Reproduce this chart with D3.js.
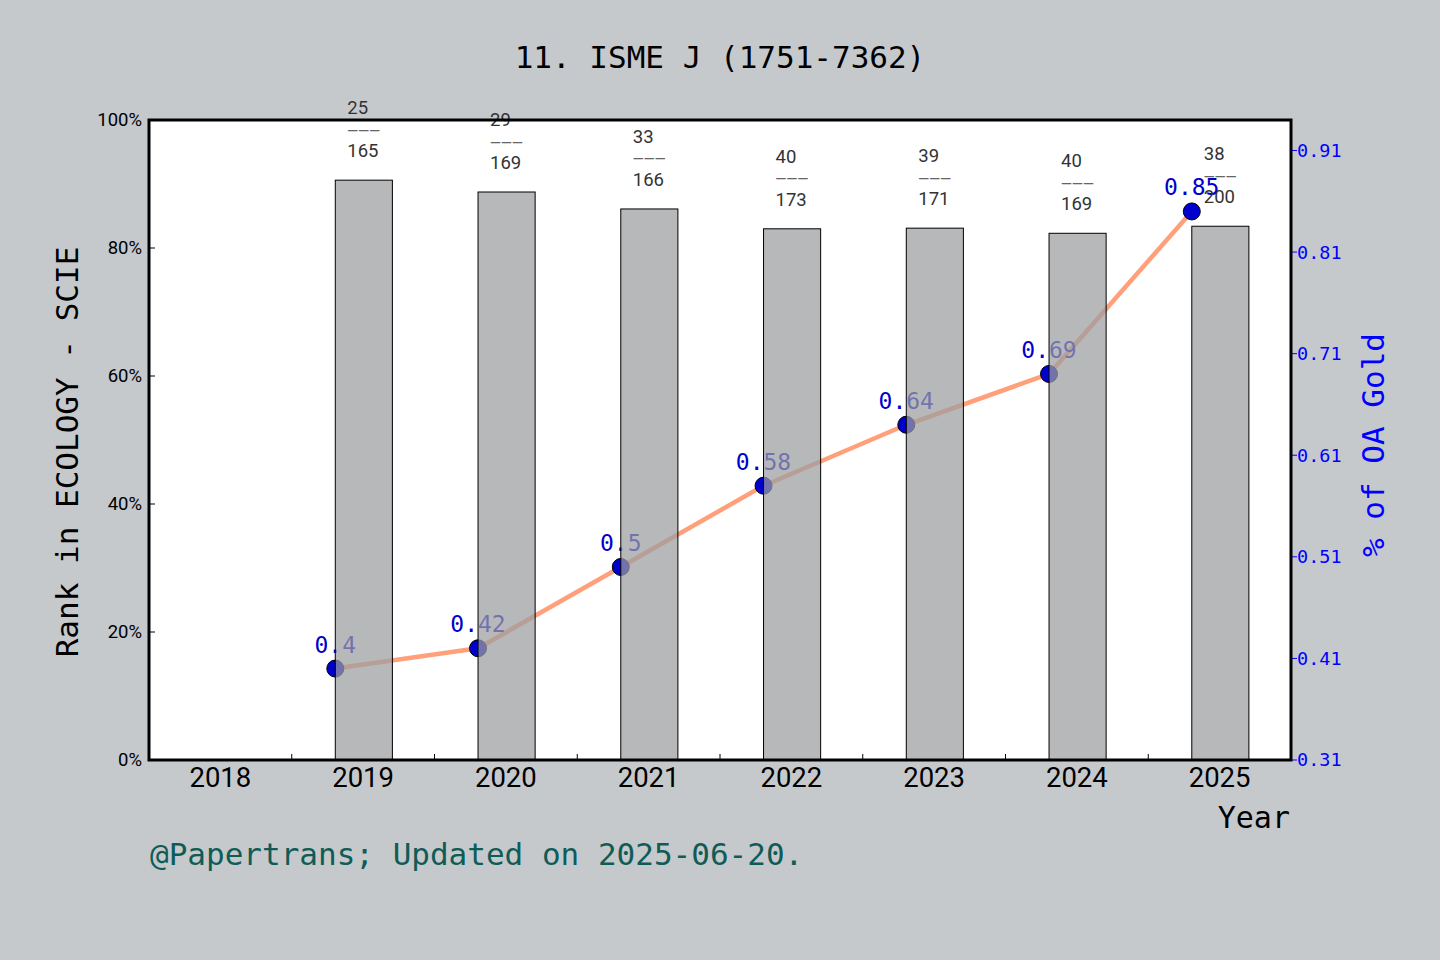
<!DOCTYPE html>
<html><head><meta charset="utf-8">
<script src="https://cdn.jsdelivr.net/npm/d3@7/dist/d3.min.js"></script>
<style>
html,body{margin:0;padding:0;background:#c6c9cc;}
svg{display:block;}
</style></head>
<body>
<svg id="chart" width="1440" height="960"></svg>
<script>
const years = ["2018","2019","2020","2021","2022","2023","2024","2025"];
const rankShare = [null, 0.906, 0.8875, 0.861, 0.830, 0.831, 0.823, 0.834];
const ranks = [null, 25, 29, 33, 40, 39, 40, 38];
const totals = [null, 165, 169, 166, 173, 171, 169, 200];
const oaGold = [null, 0.40, 0.42, 0.50, 0.58, 0.64, 0.69, 0.85];
const leftTicks = [0, 0.2, 0.4, 0.6, 0.8, 1.0];
const rightTicks = [0.31, 0.41, 0.51, 0.61, 0.71, 0.81, 0.91];
const titleText = "11. ISME J (1751-7362)";
const footerText = "@Papertrans; Updated on 2025-06-20.";

const mono = "'DejaVu Sans Mono', 'Liberation Mono', monospace";
const sans = "Roboto, 'Liberation Sans', sans-serif";

const svg = d3.select("#chart");
const L = 149, R = 1291, T = 120, B = 760;

svg.append("rect").attr("x",0).attr("y",0).attr("width",1440).attr("height",960).attr("fill","#c6c9cc");
svg.append("rect").attr("x",L).attr("y",T).attr("width",R-L).attr("height",B-T).attr("fill","#ffffff");

const x = d3.scaleBand().domain(years).range([L, R]).padding(0);
const bw = x.bandwidth();
const yL = d3.scaleLinear().domain([0, 1]).range([B, T]);
const yR = d3.scaleLinear().domain([0.31, 0.94]).range([B, T]);

const pts = years.map((yr,i)=>({yr, i, v: oaGold[i]})).filter(d=>d.v!=null);
const px = d => x(d.yr) + 0.305*bw;

// line
svg.append("path").datum(pts)
  .attr("fill","none").attr("stroke","#FFA07A").attr("stroke-width",4.5)
  .attr("stroke-linejoin","round")
  .attr("d", d3.line().x(px).y(d=>yR(d.v)));

// markers
svg.selectAll("circle.pt").data(pts).enter().append("circle")
  .attr("cx",px).attr("cy",d=>yR(d.v)).attr("r",8.5)
  .attr("fill","#0000CD").attr("stroke","#000").attr("stroke-width",1);

// point labels
svg.selectAll("text.pl").data(pts).enter().append("text")
  .attr("x",px).attr("y",d=>yR(d.v)-16)
  .attr("text-anchor","middle").attr("font-family",mono).attr("font-size",23)
  .attr("fill","#0000CD").text(d=>String(d.v));

// bars (semi-transparent, on top)
const bars = years.map((yr,i)=>({yr,i,v:rankShare[i]})).filter(d=>d.v!=null);
svg.selectAll("rect.bar").data(bars).enter().append("rect")
  .attr("x",d=>x(d.yr)+0.305*bw).attr("width",0.4*bw)
  .attr("y",d=>yL(d.v)).attr("height",d=>B-yL(d.v))
  .attr("fill","rgb(156,157,160)").attr("fill-opacity",0.73)
  .attr("stroke","#000").attr("stroke-width",1);

// bar labels
bars.forEach(d=>{
  const cx = x(d.yr)+0.505*bw;
  const lx = cx - 16.5;
  const base = yL(d.v) - 23;
  const g = svg.append("g").attr("font-family",sans).attr("font-size",18.5);
  g.append("text").attr("x",lx).attr("y",base-43).attr("fill","#333").text(ranks[d.i]);
  g.append("text").attr("x",lx).attr("y",base-21.5).attr("fill","#666")
    .attr("textLength",33).attr("lengthAdjust","spacingAndGlyphs").text("---");
  g.append("text").attr("x",lx).attr("y",base).attr("fill","#333").text(totals[d.i]);
});

// left axis ticks and labels
leftTicks.forEach(t=>{
  svg.append("line").attr("x1",L).attr("x2",L+6).attr("y1",yL(t)).attr("y2",yL(t)).attr("stroke","#000").attr("stroke-width",1);
  svg.append("text").attr("x",L-7).attr("y",yL(t)).attr("dy","0.35em")
    .attr("text-anchor","end").attr("font-family",sans).attr("font-size",18.5)
    .attr("fill","#000").text(d3.format(".0%")(t));
});

// right axis
rightTicks.forEach(t=>{
  svg.append("line").attr("x1",R).attr("x2",R+6).attr("y1",yR(t)).attr("y2",yR(t)).attr("stroke","#0000FF").attr("stroke-width",1);
  svg.append("text").attr("x",R+6).attr("y",yR(t)).attr("dy","0.35em")
    .attr("font-family",mono).attr("font-size",18.5)
    .attr("fill","#0000FF").text(t.toFixed(2));
});

// x ticks at band boundaries
years.slice(1).forEach(yr=>{
  const xx = x(yr);
  svg.append("line").attr("x1",xx).attr("x2",xx).attr("y1",B).attr("y2",B-6).attr("stroke","#000").attr("stroke-width",1);
});
years.forEach(yr=>{
  svg.append("text").attr("x",x(yr)+bw/2).attr("y",787)
    .attr("text-anchor","middle").attr("font-family",sans).attr("font-size",27.5)
    .attr("fill","#000").text(yr);
});

// frame
svg.append("rect").attr("x",L).attr("y",T).attr("width",R-L).attr("height",B-T)
  .attr("fill","none").attr("stroke","#000").attr("stroke-width",3);

// title
svg.append("text").attr("x",720).attr("y",68).attr("text-anchor","middle")
  .attr("font-family",mono).attr("font-size",31).attr("fill","#000").text(titleText);

// left axis title
svg.append("text").attr("transform","translate(78,452) rotate(-90)")
  .attr("text-anchor","middle").attr("font-family",mono).attr("font-size",31)
  .attr("fill","#000").text("Rank in ECOLOGY - SCIE");

// right axis title
svg.append("text").attr("transform","translate(1384,445) rotate(-90)")
  .attr("text-anchor","middle").attr("font-family",mono).attr("font-size",31)
  .attr("fill","#0000FF").text("% of OA Gold");

// x axis title
svg.append("text").attr("x",1290).attr("y",828).attr("text-anchor","end")
  .attr("font-family",mono).attr("font-size",30).attr("fill","#000").text("Year");

// footer
svg.append("text").attr("x",150).attr("y",865)
  .attr("font-family",mono).attr("font-size",31).attr("fill","#0f5c57").text(footerText);
</script>
</body></html>
